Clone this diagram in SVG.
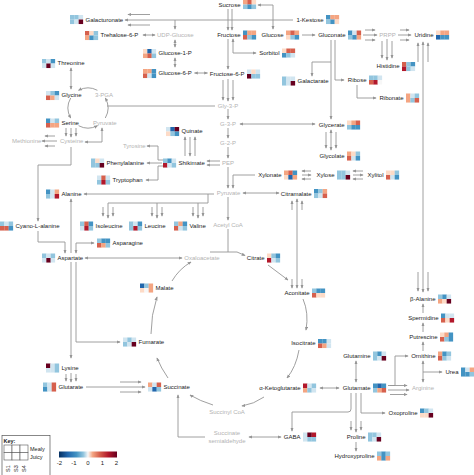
<svg xmlns="http://www.w3.org/2000/svg" width="474" height="475" viewBox="0 0 474 475">
<style>
text{font-family:"Liberation Sans",Arial,sans-serif;font-size:6px;fill:#1a1a1a}
.gr{fill:#b3b3b3}
.m{text-anchor:middle}
.r{text-anchor:end}
.hm rect{width:4.45px;height:4.55px}
.a{fill:#2166ac}.b{fill:#4393c3}.c{fill:#92c5de}.d{fill:#d1e5f0}.w{fill:#f7f7f7}
.e{fill:#fddbc7}.f{fill:#f4a582}.g{fill:#d6604d}.h{fill:#b2182b}.i{fill:#67001f}
#conn path{fill:none;stroke:#959595;stroke-width:0.9}
#conn .x{marker-end:url(#ah)}
#conn .y{marker-start:url(#ah);marker-end:url(#ah)}
#key text{font-size:5.5px}
</style>
<defs>
<marker id="ah" viewBox="0 0 6 6" refX="5" refY="3" markerWidth="4" markerHeight="4" orient="auto-start-reverse" markerUnits="userSpaceOnUse"><path d="M0,0.6 L6,3 L0,5.4 z" fill="#959595"/></marker>
<linearGradient id="cb" x1="0" x2="1" y1="0" y2="0">
<stop offset="0" stop-color="#053061"/><stop offset="0.15" stop-color="#2166ac"/><stop offset="0.3" stop-color="#4393c3"/><stop offset="0.42" stop-color="#92c5de"/><stop offset="0.5" stop-color="#f7f7f7"/><stop offset="0.58" stop-color="#f4a582"/><stop offset="0.7" stop-color="#d6604d"/><stop offset="0.85" stop-color="#b2182b"/><stop offset="1" stop-color="#67001f"/>
</linearGradient>
</defs>
<rect width="474" height="475" fill="#fff"/>

<g id="conn">
<path class="x" d="M293 20H125"/><path class="x" d="M150 14.5H128"/><path class="x" d="M150 25H128"/>
<path class="x" d="M175 20V29"/>
<path class="x" d="M228 9V30"/><path class="x" d="M232 9V30"/>
<path class="y" d="M273 29V5H258"/>
<path class="y" d="M143 35H155"/>
<path class="y" d="M175 40V47"/>
<path class="y" d="M175 58V67"/>
<path class="y" d="M194.5 73H207.5"/>
<path class="x" d="M228 39V69"/>
<path class="y" d="M233 39V53H256"/>
<path class="x" d="M302 35H315"/>
<path class="x" d="M228 79V101"/><path class="x" d="M223 80V100"/><path class="x" d="M233 80V100"/>
<path d="M215 106H107"/>
<path class="x" d="M228 109V119"/>
<path class="x" d="M228 128V138"/>
<path class="x" d="M228 147V158"/>
<path class="y" d="M240 124H315"/>
<path class="x" d="M220 161H207"/><path class="x" d="M220 165H207"/>
<path class="x" d="M228 167V188"/>
<path class="x" d="M255 175H233V188"/>
<path class="x" d="M214 194H84"/>
<path d="M208 194V203H108"/>
<path class="x" d="M108 203V218"/><path class="x" d="M103 207V216"/><path class="x" d="M113 207V216"/>
<path class="x" d="M157 203V218"/><path class="x" d="M152 207V216"/><path class="x" d="M162 207V216"/>
<path class="x" d="M198 203V218"/><path class="x" d="M193 207V216"/><path class="x" d="M203 207V216"/>
<path class="y" d="M243 193H279"/>
<path class="x" d="M228 197V220"/>
<path d="M228 229V252"/>
<path class="x" d="M210 252H237L245 255.5"/>
<path class="y" d="M85 258H182"/>
<path class="x" d="M172 281Q179 269 191 262"/>
<path class="x" d="M268 265L288 280"/>
<path class="y" d="M297 199V288"/>
<path class="x" d="M292 210V201"/><path class="x" d="M302 210V201"/>
<path class="x" d="M292 279V288"/><path class="x" d="M302 279V288"/>
<path class="x" d="M303 299Q309 313 306 330"/>
<path class="x" d="M299 350Q296 367 287 378"/>
<path class="x" d="M264 397Q254 404 242 406"/>
<path class="x" d="M213 405Q200 401 190 395"/>
<path class="x" d="M168 378Q161 368 157 358"/>
<path class="x" d="M151 334Q151 315 157 297"/>
<path class="x" d="M205 437H178V395"/>
<path class="y" d="M249 437H281"/>
<path class="x" d="M86 387H145"/><path class="x" d="M120 382H141"/><path class="x" d="M120 392H141"/>
<path class="x" d="M71 373V382"/><path class="x" d="M66 374V381"/><path class="x" d="M76 374V381"/>
<path class="x" d="M71 262V358"/>
<path class="x" d="M71 253V199"/>
<path class="x" d="M76 262V342H120"/>
<path class="y" d="M76 253V243H94"/>
<path class="x" d="M71 147V165H38V221"/>
<path class="x" d="M38 231V242H65V253"/>
<path class="x" d="M71 128V137"/><path class="x" d="M66 128V136"/><path class="x" d="M76 128V136"/>
<path class="x" d="M57 141H42"/><path class="x" d="M55 136H45"/><path class="x" d="M55 146H45"/>
<path class="y" d="M102 128V142H85"/>
<path class="y" d="M71 68V89"/>
<path class="x" d="M97.4 90.3A20 20 0 0 0 78.6 90.3"/>
<path class="x" d="M70.7 98A20 20 0 0 0 70.7 118"/>
<path class="x" d="M78.6 125.7A20 20 0 0 0 97.4 125.7"/>
<path class="x" d="M105.3 118A20 20 0 0 0 105.3 98"/>
<path class="x" d="M363 35H377"/><path class="x" d="M365 30H375"/><path class="x" d="M365 40H375"/>
<path class="x" d="M398 35H411"/><path class="x" d="M400 30H409"/><path class="x" d="M400 40H409"/>
<path class="x" d="M387 39V60"/><path class="x" d="M382 41V58"/><path class="x" d="M392 41V58"/>
<path class="y" d="M423 42V292"/>
<path class="x" d="M418 62V43"/><path class="x" d="M428 62V43"/>
<path class="x" d="M418 272V291"/><path class="x" d="M428 272V291"/>
<path class="x" d="M331 40V119"/>
<path class="x" d="M335 40V80H344"/>
<path class="x" d="M331 62H312V76"/>
<path class="x" d="M357 85V98H376"/>
<path class="y" d="M331 130V150"/><path class="x" d="M326 132V148"/><path class="x" d="M336 132V148"/>
<path class="x" d="M311 171H302"/><path class="x" d="M302 175H311"/><path class="x" d="M311 179H302"/>
<path class="x" d="M363 171H353"/><path class="x" d="M353 175H363"/><path class="x" d="M363 179H353"/>
<path class="y" d="M320 388H339"/>
<path class="y" d="M356 361V382"/>
<path class="x" d="M388 385.5H395V356H408"/>
<path class="x" d="M388 390H409"/><path class="x" d="M390 385.5H407"/><path class="x" d="M390 394.5H407"/>
<path class="y" d="M423 361V382"/>
<path class="x" d="M423 372H442"/>
<path class="x" d="M423 351V342"/>
<path class="x" d="M423 332V323"/>
<path class="x" d="M423 313V304"/>
<path class="x" d="M361 393V413H385"/>
<path class="x" d="M356 393V432"/><path class="x" d="M351 421V430"/><path class="x" d="M361 421V430"/>
<path class="x" d="M351 393V409Q351 412 348 412H292V431"/>
<path class="x" d="M356 442V451"/>
<path class="x" d="M163 160H158V146H147"/>
<path class="x" d="M162 163H147"/>
<path class="x" d="M163 166H158V180H146"/>
<path class="x" d="M185 156V137"/><path class="x" d="M190 137V156"/><path class="x" d="M195 156V137"/>
</g>

<g id="n-galacturonate"><g class="hm" transform="translate(70,15)"><rect class="c"/><rect x="4.33" class="c"/><rect x="8.67" class="d"/><rect y="4.5" class="c"/><rect x="4.33" y="4.5" class="d"/><rect x="8.67" y="4.5" class="i"/></g><text x="85.5" y="21.6">Galacturonate</text></g>
<g id="n-trehalose"><g class="hm" transform="translate(85,31)"><rect class="g"/><rect x="4.33" class="e"/><rect x="8.67" class="c"/><rect y="4.5" class="f"/><rect x="4.33" y="4.5" class="b"/><rect x="8.67" y="4.5" class="c"/></g><text x="100.5" y="37.1">Trehalose-6-P</text></g>
<g id="n-glucose1p"><g class="hm" transform="translate(143,49)"><rect class="e"/><rect x="4.33" class="a"/><rect x="8.67" class="d"/><rect y="4.5" class="f"/><rect x="4.33" y="4.5" class="g"/><rect x="8.67" y="4.5" class="c"/></g><text x="158.5" y="55.1">Glucose-1-P</text></g>
<g id="n-glucose6p"><g class="hm" transform="translate(143,69)"><rect class="f"/><rect x="4.33" class="f"/><rect x="8.67" class="b"/><rect y="4.5" class="g"/><rect x="4.33" y="4.5" class="d"/><rect x="8.67" y="4.5" class="b"/></g><text x="158.5" y="75.1">Glucose-6-P</text></g>
<g id="n-threonine"><g class="hm" transform="translate(42,59)"><rect class="c"/><rect x="4.33" class="d"/><rect x="8.67" class="b"/><rect y="4.5" class="d"/><rect x="4.33" y="4.5" class="i"/><rect x="8.67" y="4.5" class="d"/></g><text x="57.5" y="65.1">Threonine</text></g>
<g id="n-glycine"><g class="hm" transform="translate(46,91)"><rect class="d"/><rect x="4.33" class="c"/><rect x="8.67" class="b"/><rect y="4.5" class="g"/><rect x="4.33" y="4.5" class="f"/><rect x="8.67" y="4.5" class="d"/></g><text x="61.5" y="97.1">Glycine</text></g>
<g id="n-serine"><g class="hm" transform="translate(46,118.5)"><rect class="b"/><rect x="4.33" class="d"/><rect x="8.67" class="c"/><rect y="4.5" class="g"/><rect x="4.33" y="4.5" class="f"/><rect x="8.67" y="4.5" class="f"/></g><text x="61.5" y="125.1">Serine</text></g>
<g id="n-galactarate"><g class="hm" transform="translate(282,76.5)"><rect class="c"/><rect x="4.33" class="d"/><rect x="8.67" class="d"/><rect y="4.5" class="c"/><rect x="4.33" y="4.5" class="d"/><rect x="8.67" y="4.5" class="i"/></g><text x="297.5" y="83.1">Galactarate</text></g>
<g id="n-quinate"><g class="hm" transform="translate(166,127)"><rect class="d"/><rect x="4.33" class="a"/><rect x="8.67" class="i"/><rect y="4.5" class="e"/><rect x="4.33" y="4.5" class="c"/><rect x="8.67" y="4.5" class="b"/></g><text x="181.5" y="133.1">Quinate</text></g>
<g id="n-shikimate"><g class="hm" transform="translate(163,158.5)"><rect class="c"/><rect x="4.33" class="b"/><rect x="8.67" class="d"/><rect y="4.5" class="h"/><rect x="4.33" y="4.5" class="d"/><rect x="8.67" y="4.5" class="c"/></g><text x="178.5" y="165.1">Shikimate</text></g>
<g id="n-phenylalanine"><g class="hm" transform="translate(91,158.5)"><rect class="c"/><rect x="4.33" class="e"/><rect x="8.67" class="d"/><rect y="4.5" class="c"/><rect x="4.33" y="4.5" class="c"/><rect x="8.67" y="4.5" class="i"/></g><text x="106.5" y="165.1">Phenylalanine</text></g>
<g id="n-tryptophan"><g class="hm" transform="translate(97,175.5)"><rect class="d"/><rect x="4.33" class="g"/><rect x="8.67" class="d"/><rect y="4.5" class="c"/><rect x="4.33" y="4.5" class="h"/><rect x="8.67" y="4.5" class="c"/></g><text x="112.5" y="182.1">Tryptophan</text></g>
<g id="n-alanine"><g class="hm" transform="translate(46,189.5)"><rect class="b"/><rect x="4.33" class="d"/><rect x="8.67" class="f"/><rect y="4.5" class="c"/><rect x="4.33" y="4.5" class="d"/><rect x="8.67" y="4.5" class="h"/></g><text x="61.5" y="196.1">Alanine</text></g>
<g id="n-cyanoalanine"><g class="hm" transform="translate(0,221.5)"><rect class="c"/><rect x="4.33" class="d"/><rect x="8.67" class="c"/><rect y="4.5" class="g"/><rect x="4.33" y="4.5" class="g"/><rect x="8.67" y="4.5" class="b"/></g><text x="15.5" y="228.1">Cyano-L-alanine</text></g>
<g id="n-isoleucine"><g class="hm" transform="translate(80,221.5)"><rect class="c"/><rect x="4.33" class="g"/><rect x="8.67" class="b"/><rect y="4.5" class="d"/><rect x="4.33" y="4.5" class="h"/><rect x="8.67" y="4.5" class="c"/></g><text x="95.5" y="228.1">Isoleucine</text></g>
<g id="n-leucine"><g class="hm" transform="translate(129,221.5)"><rect class="c"/><rect x="4.33" class="d"/><rect x="8.67" class="b"/><rect y="4.5" class="c"/><rect x="4.33" y="4.5" class="h"/><rect x="8.67" y="4.5" class="c"/></g><text x="144.5" y="228.1">Leucine</text></g>
<g id="n-valine"><g class="hm" transform="translate(174,221.5)"><rect class="c"/><rect x="4.33" class="f"/><rect x="8.67" class="b"/><rect y="4.5" class="g"/><rect x="4.33" y="4.5" class="d"/><rect x="8.67" y="4.5" class="c"/></g><text x="189.5" y="228.1">Valine</text></g>
<g id="n-asparagine"><g class="hm" transform="translate(97,238.5)"><rect class="c"/><rect x="4.33" class="b"/><rect x="8.67" class="b"/><rect y="4.5" class="g"/><rect x="4.33" y="4.5" class="f"/><rect x="8.67" y="4.5" class="c"/></g><text x="112.5" y="245.1">Asparagine</text></g>
<g id="n-aspartate"><g class="hm" transform="translate(42,253.5)"><rect class="c"/><rect x="4.33" class="d"/><rect x="8.67" class="c"/><rect y="4.5" class="d"/><rect x="4.33" y="4.5" class="i"/><rect x="8.67" y="4.5" class="d"/></g><text x="57.5" y="260.1">Aspartate</text></g>
<g id="n-malate"><g class="hm" transform="translate(140,283.5)"><rect class="a"/><rect x="4.33" class="c"/><rect x="8.67" class="f"/><rect y="4.5" class="e"/><rect x="4.33" y="4.5" class="w"/><rect x="8.67" y="4.5" class="f"/></g><text x="155.5" y="290.1">Malate</text></g>
<g id="n-fumarate"><g class="hm" transform="translate(123,337.5)"><rect class="d"/><rect x="4.33" class="c"/><rect x="8.67" class="d"/><rect y="4.5" class="c"/><rect x="4.33" y="4.5" class="d"/><rect x="8.67" y="4.5" class="i"/></g><text x="138.5" y="344.1">Fumarate</text></g>
<g id="n-succinate"><g class="hm" transform="translate(148,382.5)"><rect class="f"/><rect x="4.33" class="d"/><rect x="8.67" class="g"/><rect y="4.5" class="d"/><rect x="4.33" y="4.5" class="a"/><rect x="8.67" y="4.5" class="c"/></g><text x="163.5" y="389.1">Succinate</text></g>
<g id="n-glutarate"><g class="hm" transform="translate(43,382.5)"><rect class="c"/><rect x="4.33" class="d"/><rect x="8.67" class="g"/><rect y="4.5" class="b"/><rect x="4.33" y="4.5" class="d"/><rect x="8.67" y="4.5" class="g"/></g><text x="58.5" y="389.1">Glutarate</text></g>
<g id="n-lysine"><g class="hm" transform="translate(46,363.5)"><rect class="i"/><rect x="4.33" class="d"/><rect x="8.67" class="c"/><rect y="4.5" class="d"/><rect x="4.33" y="4.5" class="d"/><rect x="8.67" y="4.5" class="c"/></g><text x="61.5" y="370.1">Lysine</text></g>

<g id="n-sucrose"><g class="hm" transform="translate(243,0)"><rect class="f"/><rect x="4.33" class="g"/><rect x="8.67" class="e"/><rect y="4.5" class="c"/><rect x="4.33" y="4.5" class="b"/><rect x="8.67" y="4.5" class="c"/></g><text class="r" x="240.5" y="6.6">Sucrose</text></g>
<g id="n-fructose"><g class="hm" transform="translate(243,30.5)"><rect class="b"/><rect x="4.33" class="f"/><rect x="8.67" class="f"/><rect y="4.5" class="g"/><rect x="4.33" y="4.5" class="c"/><rect x="8.67" y="4.5" class="b"/></g><text class="r" x="240.5" y="37.1">Fructose</text></g>
<g id="n-glucose"><g class="hm" transform="translate(286,30.5)"><rect class="f"/><rect x="4.33" class="g"/><rect x="8.67" class="f"/><rect y="4.5" class="e"/><rect x="4.33" y="4.5" class="c"/><rect x="8.67" y="4.5" class="b"/></g><text class="r" x="283.5" y="37.1">Glucose</text></g>
<g id="n-sorbitol"><g class="hm" transform="translate(282,48.5)"><rect class="e"/><rect x="4.33" class="g"/><rect x="8.67" class="g"/><rect y="4.5" class="b"/><rect x="4.33" y="4.5" class="c"/><rect x="8.67" y="4.5" class="d"/></g><text class="r" x="279.5" y="55.1">Sorbitol</text></g>
<g id="n-fructose6p"><g class="hm" transform="translate(247,69.5)"><rect class="d"/><rect x="4.33" class="e"/><rect x="8.67" class="d"/><rect y="4.5" class="i"/><rect x="4.33" y="4.5" class="c"/><rect x="8.67" y="4.5" class="c"/></g><text class="r" x="244.5" y="76.1">Fructose-6-P</text></g>
<g id="n-kestose"><g class="hm" transform="translate(326,15)"><rect class="b"/><rect x="4.33" class="f"/><rect x="8.67" class="f"/><rect y="4.5" class="c"/><rect x="4.33" y="4.5" class="b"/><rect x="8.67" y="4.5" class="e"/></g><text class="r" x="323.5" y="21.6">1-Kestose</text></g>
<g id="n-gluconate"><g class="hm" transform="translate(348,30.5)"><rect class="b"/><rect x="4.33" class="d"/><rect x="8.67" class="g"/><rect y="4.5" class="c"/><rect x="4.33" y="4.5" class="b"/><rect x="8.67" y="4.5" class="f"/></g><text class="r" x="345.5" y="37.1">Gluconate</text></g>
<g id="n-uridine"><g class="hm" transform="translate(436,30.5)"><rect class="e"/><rect x="4.33" class="f"/><rect x="8.67" class="f"/><rect y="4.5" class="a"/><rect x="4.33" y="4.5" class="b"/><rect x="8.67" y="4.5" class="b"/></g><text class="r" x="433.5" y="37.1">Uridine</text></g>
<g id="n-histidine"><g class="hm" transform="translate(402,62)"><rect class="g"/><rect x="4.33" class="c"/><rect x="8.67" class="b"/><rect y="4.5" class="h"/><rect x="4.33" y="4.5" class="c"/><rect x="8.67" y="4.5" class="d"/></g><text class="r" x="399.5" y="68.1">Histidine</text></g>
<g id="n-ribose"><g class="hm" transform="translate(369,75.5)"><rect class="c"/><rect x="4.33" class="c"/><rect x="8.67" class="d"/><rect y="4.5" class="g"/><rect x="4.33" y="4.5" class="h"/><rect x="8.67" y="4.5" class="w"/></g><text class="r" x="366.5" y="82.1">Ribose</text></g>
<g id="n-ribonate"><g class="hm" transform="translate(406,93.5)"><rect class="f"/><rect x="4.33" class="d"/><rect x="8.67" class="c"/><rect y="4.5" class="f"/><rect x="4.33" y="4.5" class="c"/><rect x="8.67" y="4.5" class="g"/></g><text class="r" x="403.5" y="100.1">Ribonate</text></g>
<g id="n-glycerate"><g class="hm" transform="translate(347,120.5)"><rect class="e"/><rect x="4.33" class="f"/><rect x="8.67" class="g"/><rect y="4.5" class="c"/><rect x="4.33" y="4.5" class="b"/><rect x="8.67" y="4.5" class="b"/></g><text class="r" x="344.5" y="127.1">Glycerate</text></g>
<g id="n-glycolate"><g class="hm" transform="translate(347,151.5)"><rect class="f"/><rect x="4.33" class="e"/><rect x="8.67" class="c"/><rect y="4.5" class="g"/><rect x="4.33" y="4.5" class="d"/><rect x="8.67" y="4.5" class="b"/></g><text class="r" x="344.5" y="157.6">Glycolate</text></g>
<g id="n-xylonate"><g class="hm" transform="translate(284,170.5)"><rect class="f"/><rect x="4.33" class="g"/><rect x="8.67" class="b"/><rect y="4.5" class="e"/><rect x="4.33" y="4.5" class="a"/><rect x="8.67" y="4.5" class="f"/></g><text class="r" x="281.5" y="177.1">Xylonate</text></g>
<g id="n-xylose"><g class="hm" transform="translate(337,170.5)"><rect class="c"/><rect x="4.33" class="c"/><rect x="8.67" class="d"/><rect y="4.5" class="c"/><rect x="4.33" y="4.5" class="c"/><rect x="8.67" y="4.5" class="i"/></g><text class="r" x="334.5" y="177.1">Xylose</text></g>
<g id="n-xylitol"><g class="hm" transform="translate(386,170.5)"><rect class="e"/><rect x="4.33" class="e"/><rect x="8.67" class="c"/><rect y="4.5" class="g"/><rect x="4.33" y="4.5" class="d"/><rect x="8.67" y="4.5" class="b"/></g><text class="r" x="383.5" y="177.1">Xylitol</text></g>
<g id="n-citramalate"><g class="hm" transform="translate(314,189)"><rect class="b"/><rect x="4.33" class="c"/><rect x="8.67" class="f"/><rect y="4.5" class="c"/><rect x="4.33" y="4.5" class="d"/><rect x="8.67" y="4.5" class="g"/></g><text class="r" x="311.5" y="195.6">Citramalate</text></g>
<g id="n-citrate"><g class="hm" transform="translate(267,253.5)"><rect class="e"/><rect x="4.33" class="c"/><rect x="8.67" class="b"/><rect y="4.5" class="h"/><rect x="4.33" y="4.5" class="d"/><rect x="8.67" y="4.5" class="c"/></g><text class="r" x="264.5" y="260.1">Citrate</text></g>
<g id="n-aconitate"><g class="hm" transform="translate(312,288.5)"><rect class="c"/><rect x="4.33" class="b"/><rect x="8.67" class="b"/><rect y="4.5" class="g"/><rect x="4.33" y="4.5" class="e"/><rect x="8.67" y="4.5" class="e"/></g><text class="r" x="309.5" y="295.1">Aconitate</text></g>
<g id="n-isocitrate"><g class="hm" transform="translate(318,339)"><rect class="b"/><rect x="4.33" class="b"/><rect x="8.67" class="d"/><rect y="4.5" class="g"/><rect x="4.33" y="4.5" class="f"/><rect x="8.67" y="4.5" class="d"/></g><text class="r" x="315.5" y="345.1">Isocitrate</text></g>
<g id="n-akg"><g class="hm" transform="translate(303,383.5)"><rect class="h"/><rect x="4.33" class="d"/><rect x="8.67" class="c"/><rect y="4.5" class="f"/><rect x="4.33" y="4.5" class="c"/><rect x="8.67" y="4.5" class="d"/></g><text class="r" x="300.5" y="390.1">α-Ketoglutarate</text></g>
<g id="n-glutamine"><g class="hm" transform="translate(373,351.5)"><rect class="c"/><rect x="4.33" class="b"/><rect x="8.67" class="d"/><rect y="4.5" class="c"/><rect x="4.33" y="4.5" class="d"/><rect x="8.67" y="4.5" class="i"/></g><text class="r" x="370.5" y="358.1">Glutamine</text></g>
<g id="n-glutamate"><g class="hm" transform="translate(373,383.5)"><rect class="b"/><rect x="4.33" class="a"/><rect x="8.67" class="b"/><rect y="4.5" class="c"/><rect x="4.33" y="4.5" class="f"/><rect x="8.67" y="4.5" class="g"/></g><text class="r" x="370.5" y="390.1">Glutamate</text></g>
<g id="n-proline"><g class="hm" transform="translate(368,432.5)"><rect class="c"/><rect x="4.33" class="c"/><rect x="8.67" class="d"/><rect y="4.5" class="c"/><rect x="4.33" y="4.5" class="d"/><rect x="8.67" y="4.5" class="i"/></g><text class="r" x="365.5" y="439.1">Proline</text></g>
<g id="n-hydroxyproline"><g class="hm" transform="translate(377,451.5)"><rect class="c"/><rect x="4.33" class="b"/><rect x="8.67" class="c"/><rect y="4.5" class="f"/><rect x="4.33" y="4.5" class="b"/><rect x="8.67" y="4.5" class="f"/></g><text class="r" x="374.5" y="458.1">Hydroxyproline</text></g>
<g id="n-gaba"><g class="hm" transform="translate(303,432.5)"><rect class="d"/><rect x="4.33" class="i"/><rect x="8.67" class="h"/><rect y="4.5" class="d"/><rect x="4.33" y="4.5" class="c"/><rect x="8.67" y="4.5" class="c"/></g><text class="r" x="300.5" y="439.1">GABA</text></g>
<g id="n-oxoproline"><g class="hm" transform="translate(420,408.5)"><rect class="b"/><rect x="4.33" class="c"/><rect x="8.67" class="d"/><rect y="4.5" class="e"/><rect x="4.33" y="4.5" class="e"/><rect x="8.67" y="4.5" class="i"/></g><text class="r" x="417.5" y="415.1">Oxoproline</text></g>
<g id="n-ornithine"><g class="hm" transform="translate(438,351.5)"><rect class="f"/><rect x="4.33" class="b"/><rect x="8.67" class="c"/><rect y="4.5" class="g"/><rect x="4.33" y="4.5" class="c"/><rect x="8.67" y="4.5" class="d"/></g><text class="r" x="435.5" y="358.1">Ornithine</text></g>
<g id="n-putrescine"><g class="hm" transform="translate(440,332.5)"><rect class="e"/><rect x="4.33" class="f"/><rect x="8.67" class="b"/><rect y="4.5" class="g"/><rect x="4.33" y="4.5" class="c"/><rect x="8.67" y="4.5" class="b"/></g><text class="r" x="437.5" y="339.1">Putrescine</text></g>
<g id="n-spermidine"><g class="hm" transform="translate(441,313.5)"><rect class="b"/><rect x="4.33" class="d"/><rect x="8.67" class="d"/><rect y="4.5" class="g"/><rect x="4.33" y="4.5" class="e"/><rect x="8.67" y="4.5" class="h"/></g><text class="r" x="438.5" y="320.1">Spermidine</text></g>
<g id="n-urea"><g class="hm" transform="translate(461,367.5)"><rect class="b"/><rect x="4.33" class="d"/><rect x="8.67" class="f"/><rect y="4.5" class="b"/><rect x="4.33" y="4.5" class="b"/><rect x="8.67" y="4.5" class="c"/></g><text class="r" x="458.5" y="374.1">Urea</text></g>
<g id="n-balanine"><g class="hm" transform="translate(438,294.5)"><rect class="c"/><rect x="4.33" class="b"/><rect x="8.67" class="d"/><rect y="4.5" class="f"/><rect x="4.33" y="4.5" class="e"/><rect x="8.67" y="4.5" class="i"/></g><text class="r" x="435.5" y="301.1">β-Alanine</text></g>

<g id="n-udpglucose"><text class="gr" x="157" y="37.1">UDP-Glucose</text></g>
<g id="n-3pga"><text class="gr" x="95" y="97.1">3-PGA</text></g>
<g id="n-pyruvate1"><text class="gr" x="93" y="125.1">Pyruvate</text></g>
<g id="n-cysteine"><text class="gr" x="60" y="143.1">Cysteine</text></g>
<g id="n-methionine"><text class="gr" x="12" y="143.1">Methionine</text></g>
<g id="n-tyrosine"><text class="gr" x="123" y="148.1">Tyrosine</text></g>
<g id="n-gly3p"><text class="gr m" x="228" y="108.1">Gly-3-P</text></g>
<g id="n-g3p"><text class="gr m" x="228" y="126.1">G-3-P</text></g>
<g id="n-g2p"><text class="gr m" x="228" y="145.1">G-2-P</text></g>
<g id="n-pep"><text class="gr m" x="228" y="165.1">PEP</text></g>
<g id="n-pyruvate2"><text class="gr m" x="228.5" y="195.1">Pyruvate</text></g>
<g id="n-acetylcoa"><text class="gr m" x="228" y="227.1">Acetyl CoA</text></g>
<g id="n-oxaloacetate"><text class="gr m" x="202" y="260.1">Oxaloacetate</text></g>
<g id="n-prpp"><text class="gr m" x="387.5" y="37.1">PRPP</text></g>
<g id="n-arginine"><text class="gr" x="412" y="390.1">Arginine</text></g>
<g id="n-succinylcoa"><text class="gr m" x="227" y="414.1">Succinyl CoA</text></g>
<g id="n-ssa"><text class="gr m" x="227" y="435.1">Succinate</text><text class="gr m" x="227" y="443.1">semialdehyde</text></g>

<g id="key">
<rect x="2" y="435.5" width="48" height="45" fill="#fff" stroke="#555" stroke-width="0.7"/>
<text x="3.5" y="443" font-weight="bold">Key:</text>
<g fill="#fff" stroke="#555" stroke-width="0.6">
<rect x="4" y="445" width="8" height="7.5"/><rect x="12" y="445" width="8" height="7.5"/><rect x="20" y="445" width="8" height="7.5"/>
<rect x="4" y="452.5" width="8" height="7.5"/><rect x="12" y="452.5" width="8" height="7.5"/><rect x="20" y="452.5" width="8" height="7.5"/>
</g>
<text x="30" y="450.5">Mealy</text>
<text x="30" y="458.5">Juicy</text>
<text transform="translate(10,472) rotate(-90)">S1</text>
<text transform="translate(18,472) rotate(-90)">S3</text>
<text transform="translate(26,472) rotate(-90)">S4</text>
</g>
<g id="colorbar">
<rect x="59" y="451.5" width="58" height="6" fill="url(#cb)"/>
<text class="m" x="59.5" y="465">-2</text>
<text class="m" x="74" y="465">-1</text>
<text class="m" x="88" y="465">0</text>
<text class="m" x="102.5" y="465">1</text>
<text class="m" x="116.5" y="465">2</text>
</g>
</svg>
